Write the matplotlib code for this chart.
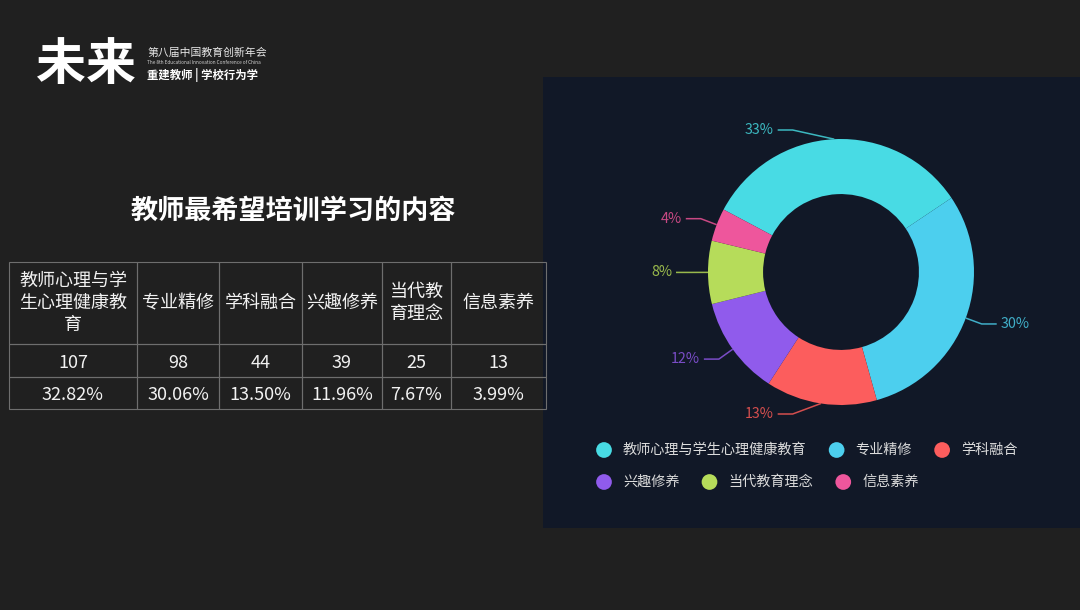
import numpy as np
import matplotlib
matplotlib.use("Agg")
import matplotlib.pyplot as plt
from matplotlib.patches import Rectangle
from matplotlib.colors import to_rgb

plt.rcParams['font.family'] = ['Noto Sans CJK SC', 'DejaVu Sans']

# data
categories = ['教师心理与学生心理健康教育', '专业精修', '学科融合', '兴趣修养', '当代教育理念', '信息素养']
header_labels = ['教师心理与学\n生心理健康教\n育', '专业精修', '学科融合', '兴趣修养', '当代教\n育理念', '信息素养']
counts = [107, 98, 44, 39, 25, 13]
colors = ['#48dbe4', '#4ccfee', '#fc5d5d', '#905bec', '#b6dc5a', '#ee569c']
title = '教师最希望培训学习的内容'

total = sum(counts)
pct_table = ['%.2f%%' % (c / total * 100) for c in counts]
pct_label = ['%d%%' % round(c / total * 100) for c in counts]

W, H = 1080, 610
fig = plt.figure(figsize=(W / 100, H / 100), dpi=100, facecolor='#202020')

# background canvas in pixel coordinates
bg = fig.add_axes([0, 0, 1, 1])
bg.set_xlim(0, W)
bg.set_ylim(H, 0)
bg.axis('off')
bg.add_patch(Rectangle((543, 77), W - 543, 451, facecolor='#111827', edgecolor='none'))

# logo
bg.text(86, 66, '未来', color='white', fontsize=36, fontweight='heavy', ha='center', va='center',
        style='italic')
bg.text(147, 53, '第八届中国教育创新年会', color='#e8e8e8', fontsize=7.8, ha='left', va='center')
bg.text(147, 63, 'The 8th Educational Innovation Conference of China', color='#cfcfcf',
        fontsize=3.4, ha='left', va='center')
bg.text(147, 75, '重建教师 | 学校行为学', color='white', fontsize=8.2, fontweight='bold',
        ha='left', va='center')

# title
bg.text(293, 211, title, color='white', fontsize=19.5, fontweight='bold', ha='center', va='center')

# table
tax = fig.add_axes([9 / W, (H - 409) / H, (546 - 9) / W, (409 - 262) / H])
tax.axis('off')
col_w = [128, 82, 83, 80, 69, 95]
row_h = [82, 33, 32]
cell_text = [header_labels, [str(c) for c in counts], pct_table]
tbl = tax.table(cellText=cell_text, colWidths=[w / sum(col_w) for w in col_w],
                cellLoc='center', bbox=[0, 0, 1, 1])
tbl.auto_set_font_size(False)
for (r, c), cell in tbl.get_celld().items():
    cell.set_height(row_h[r] / sum(row_h))
    cell.set_facecolor('none')
    cell.set_edgecolor('#6e6e6e')
    cell.set_linewidth(0.8)
    t = cell.get_text()
    t.set_color('#f2f2f2')
    t.set_fontsize(13)
    t.set_multialignment('center')
    t.set_linespacing(1.3)
    if r > 0:
        t.set_va('center_baseline')

# donut
cx, cy, r_px = 841, 272, 133
lim = 1.6
side = 2 * lim * r_px
pax = fig.add_axes([(cx - side / 2) / W, (H - cy - side / 2) / H, side / W, side / H])
pax.axis('off')
pax.set_facecolor('none')
wedges, _ = pax.pie(counts, colors=colors, startangle=152, counterclock=False, radius=1.0,
                    wedgeprops=dict(width=0.414, edgecolor='none'))
pax.set_xlim(-lim, lim)
pax.set_ylim(-lim, lim)

R = 150 / r_px
max_dy = 142 / r_px
L2 = 15 / r_px
for w, lab, col in zip(wedges, pct_label, colors):
    dim = tuple(0.84 * v for v in to_rgb(col))
    th = np.deg2rad((w.theta1 + w.theta2) / 2)
    sgn = 1 if np.cos(th) >= 0 else -1
    p1 = (np.cos(th), np.sin(th))
    dy = float(np.clip(R * np.sin(th), -max_dy, max_dy))
    dx = sgn * np.sqrt(R ** 2 - dy ** 2)
    p3 = (dx + sgn * L2, dy)
    pax.plot([p1[0], dx, p3[0]], [p1[1], dy, p3[1]], color=dim, lw=1.1, solid_capstyle='butt')
    pax.text(p3[0] + sgn * 4 / r_px, dy, lab, color=dim, fontsize=10.3,
             ha='left' if sgn > 0 else 'right', va='center')

# legend (flow layout like the original)
renderer = fig.canvas.get_renderer()
x0, x_max = 596, 1050
row_y = [450, 482]
x, row = x0, 0
for name, col in zip(categories, colors):
    t = bg.text(0, 0, name, fontsize=10.2, color='#dcdcdc', ha='left', va='center')
    tw = t.get_window_extent(renderer).width
    item_w = 8 + 19 + tw
    if x + item_w > x_max and x > x0:
        row += 1
        x = x0
    y = row_y[row]
    bg.scatter([x + 8], [y], s=128, color=col, edgecolors='none', zorder=3)
    t.set_position((x + 8 + 19, y))
    x += item_w + 22

fig.savefig('out.png', dpi=100, facecolor=fig.get_facecolor())
